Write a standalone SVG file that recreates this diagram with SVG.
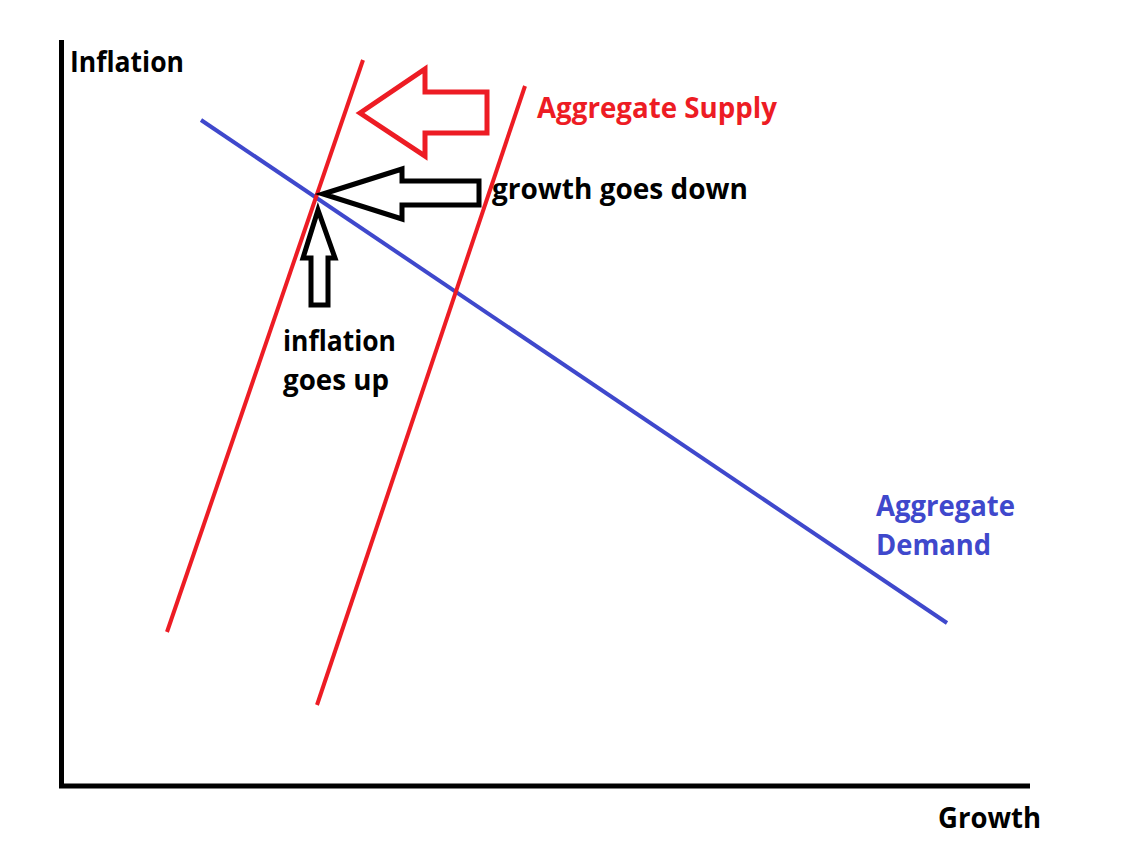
<svg xmlns="http://www.w3.org/2000/svg" width="1139" height="848" viewBox="0 0 1139 848">
<style>
.t{font-family:"Open Sans","Liberation Sans",sans-serif;font-weight:700;font-size:28px}
.k{fill:#000}
.r{fill:#ed1c24}
.b{fill:#3f48cc}
.axis{stroke:#000;stroke-width:5;fill:none}
.rl{stroke:#ed1c24;stroke-width:4;fill:none}
.bl{stroke:#3f48cc;stroke-width:4;fill:none}
.ra{stroke:#ed1c24;stroke-width:5;fill:#fff;stroke-linejoin:miter}
.ka{stroke:#000;stroke-width:5;fill:#fff;stroke-linejoin:miter}
</style>
<rect width="1139" height="848" fill="#fff"/>
<g id="axes">
<line class="axis" x1="61.5" y1="40" x2="61.5" y2="788"/>
<line class="axis" x1="59" y1="786" x2="1030" y2="786"/>
</g>
<g id="connectors">
<line id="ad" class="bl" x1="201" y1="120" x2="947" y2="623"/>
<line id="as1" class="rl" x1="363" y1="60" x2="167" y2="632"/>
<line id="as2" class="rl" x1="525" y1="86" x2="317" y2="705"/>
</g>
<g id="shift-arrow">
<polygon class="ra" points="360,113 425,69 425,92 487,92 487,133 425,133 425,156"/>
</g>
<g id="growth-arrow">
<polygon class="ka" points="323,194 402,169 402,181 479,181 479,205 402,205 402,219"/>
</g>
<g id="inflation-arrow">
<polygon class="ka" points="318,210 335,258 328,258 328,305 311,305 311,258 303,258"/>
</g>
<g id="label-inflation-axis"><text class="t k" x="70" y="72" textLength="114" lengthAdjust="spacingAndGlyphs">Inflation</text></g>
<g id="label-growth-axis"><text class="t k" x="938" y="828" textLength="103" lengthAdjust="spacingAndGlyphs">Growth</text></g>
<g id="label-as"><text class="t r" x="537" y="118" textLength="240" lengthAdjust="spacingAndGlyphs">Aggregate Supply</text></g>
<g id="label-growth-down"><text class="t k" x="492" y="199" textLength="256" lengthAdjust="spacingAndGlyphs">growth goes down</text></g>
<g id="label-inflation-up">
<text class="t k" x="283" y="351" textLength="113" lengthAdjust="spacingAndGlyphs">inflation</text>
<text class="t k" x="283" y="390" textLength="106" lengthAdjust="spacingAndGlyphs">goes up</text>
</g>
<g id="label-ad">
<text class="t b" x="876" y="516" textLength="139" lengthAdjust="spacingAndGlyphs">Aggregate</text>
<text class="t b" x="876" y="555" textLength="115" lengthAdjust="spacingAndGlyphs">Demand</text>
</g>
</svg>
